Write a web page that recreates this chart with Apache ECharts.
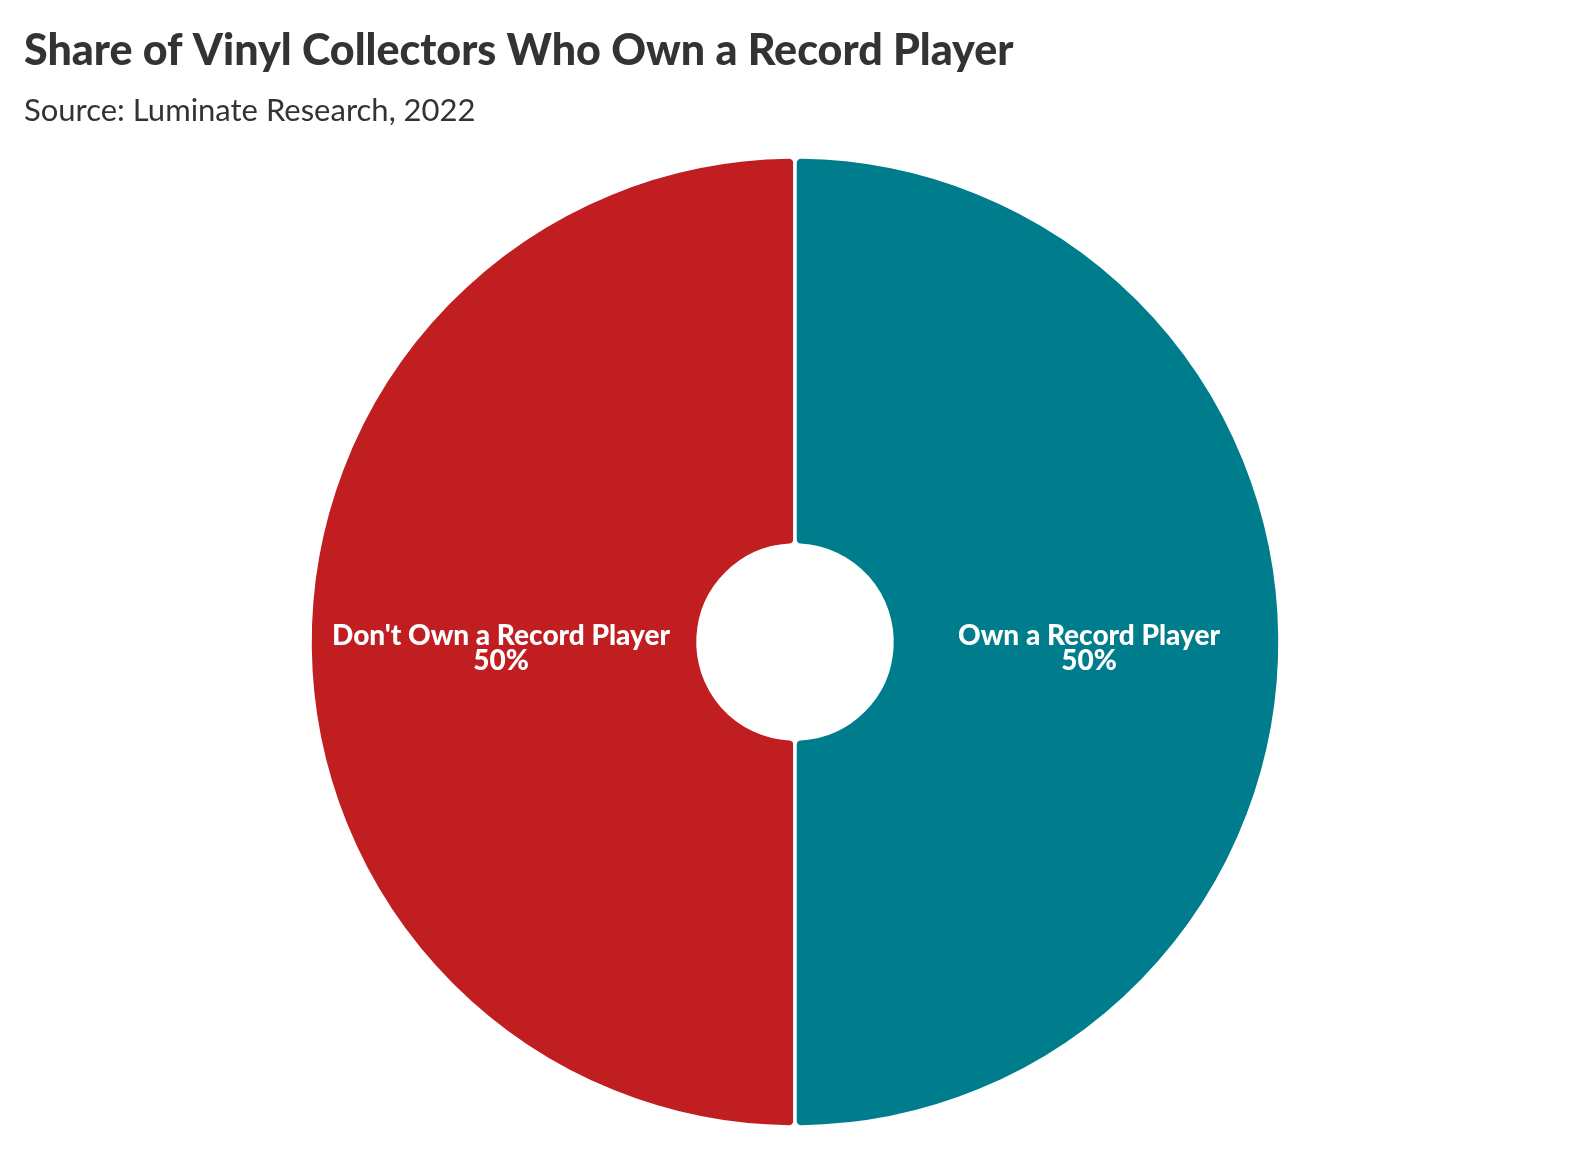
<!DOCTYPE html>
<html><head><meta charset="utf-8">
<script src="https://cdn.jsdelivr.net/npm/echarts@6/dist/echarts.min.js"></script>
<style>html,body{margin:0;padding:0;background:#fff}#c{width:1588px;height:1150px}</style>
</head><body><div id="c"></div>
<script>
const categories = ["Don't Own a Record Player", "Own a Record Player"];
const values = [50, 50];
const colors = ['#C01E20', '#007D8D'];

const chart = echarts.init(document.getElementById('c'));
chart.setOption({
  animation: false,
  title: {
    text: 'Share of Vinyl Collectors Who Own a Record Player',
    subtext: 'Source: Luminate Research, 2022',
    left: 19, top: 25,
    itemGap: 22,
    textStyle: { fontFamily: 'Lato', fontWeight: 900, fontSize: 43, color: '#333' },
    subtextStyle: { fontFamily: 'Lato', fontSize: 31, color: '#333' }
  },
  series: [{
    type: 'pie',
    center: [795, 642],
    radius: [97, 485],
    startAngle: 90,
    clockwise: false,
    data: categories.map((c, i) => ({ name: c, value: values[i], itemStyle: { color: colors[i] } })),
    itemStyle: { borderColor: '#fff', borderWidth: 3.5, borderRadius: 6 },
    label: {
      position: 'inside',
      formatter: p => p.name + '\n' + Math.round(p.percent) + '%',
      color: '#fff', fontFamily: 'Lato', fontWeight: 900, fontSize: 28, lineHeight: 25,
      align: 'center'
    },
    labelLayout: { dy: 6 },
    labelLine: { show: false }
  }]
});
</script></body></html>
